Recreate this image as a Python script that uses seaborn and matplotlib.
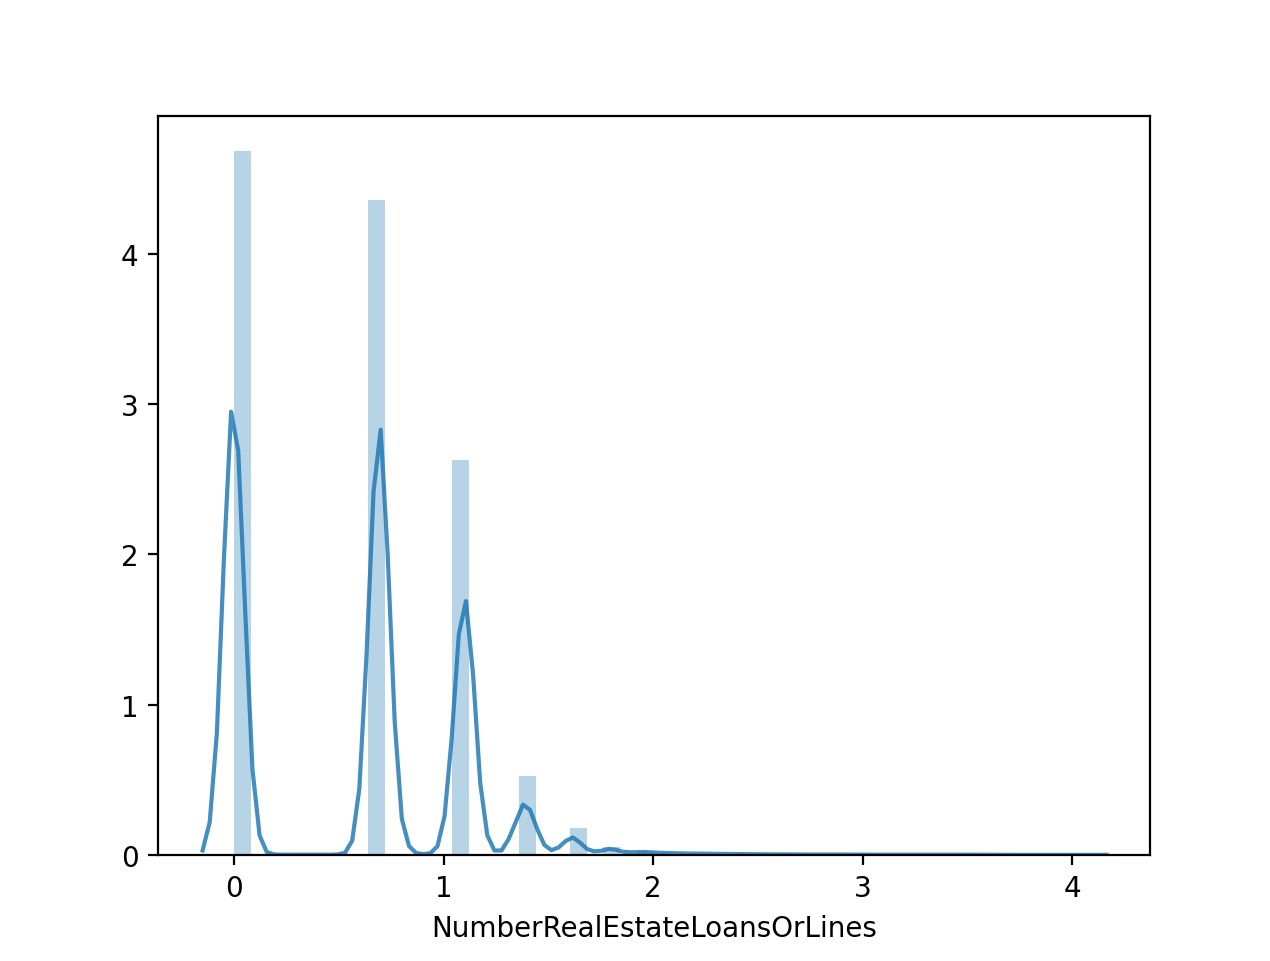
import numpy as np
import pandas as pd
import matplotlib
matplotlib.use('Agg')
import matplotlib.pyplot as plt
import seaborn as sns

# log1p(NumberRealEstateLoansOrLines) values and their density bar heights
bar_x = [0.0, 0.693, 1.099, 1.386, 1.609, 1.792, 1.946, 2.079, 2.197, 2.303, 2.398]
bar_heights = [4.685, 4.359, 2.63, 0.526, 0.18, 0.053, 0.025, 0.013, 0.007, 0.006, 0.003]

# kde curve
kde_x = [-0.150, -0.116, -0.082, -0.048, -0.014, 0.020, 0.054, 0.088, 0.122, 0.156,
         0.190, 0.224, 0.258, 0.292, 0.326, 0.360, 0.394, 0.428, 0.462, 0.496,
         0.530, 0.564, 0.598, 0.632, 0.666, 0.700, 0.733, 0.767, 0.801, 0.835,
         0.869, 0.903, 0.937, 0.971, 1.005, 1.039, 1.073, 1.107, 1.141, 1.175,
         1.209, 1.243, 1.277, 1.311, 1.345, 1.379, 1.413, 1.447, 1.481, 1.515,
         1.549, 1.583, 1.617, 1.651, 1.685, 1.719, 1.753, 1.787, 1.821, 1.855,
         1.889, 1.957, 2.025, 2.093, 2.161, 2.229, 2.365, 2.501, 2.637, 2.773,
         2.908, 3.112, 3.316, 3.520, 3.724, 3.928, 4.165]
kde_y = [0.03, 0.22, 0.81, 1.98, 2.95, 2.69, 1.60, 0.57, 0.13, 0.02,
         0.004, 0.002, 0.002, 0.002, 0.002, 0.002, 0.002, 0.002, 0.002, 0.004,
         0.015, 0.095, 0.44, 1.32, 2.42, 2.83, 2.01, 0.885, 0.24, 0.06,
         0.013, 0.006, 0.012, 0.058, 0.26, 0.78, 1.47, 1.69, 1.20, 0.48,
         0.13, 0.03, 0.03, 0.107, 0.22, 0.335, 0.30, 0.173, 0.067, 0.032,
         0.05, 0.093, 0.117, 0.083, 0.04, 0.024, 0.028, 0.04, 0.035, 0.022,
         0.018, 0.02, 0.015, 0.012, 0.01, 0.009, 0.007, 0.005, 0.004, 0.003,
         0.003, 0.002, 0.002, 0.002, 0.001, 0.001, 0.001]

color = '#1f77b4'

fig = plt.figure(figsize=(6.35, 4.81), dpi=200)
ax = fig.add_subplot(111)
plt.subplots_adjust(left=0.1244, right=0.9055, bottom=0.1102, top=0.8784)

sns.histplot(x=bar_x, weights=bar_heights, bins=50, binrange=(0, 4.007),
             stat='count', color=color, alpha=0.32, linewidth=0, ax=ax)
sns.lineplot(x=kde_x, y=kde_y, color=color, alpha=0.83, linewidth=1.5, ax=ax)

ax.set_xlim(-0.363, 4.372)
ax.set_ylim(0, 4.918)
ax.set_xticks([0, 1, 2, 3, 4])
ax.set_yticks([0, 1, 2, 3, 4])
ax.set_ylabel('')
ax.set_xlabel('NumberRealEstateLoansOrLines')

plt.savefig('out.png', dpi=200)
plt.close()
